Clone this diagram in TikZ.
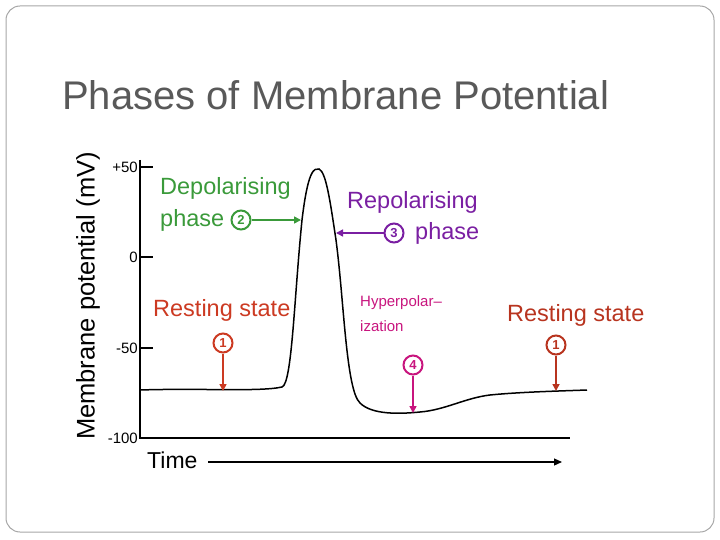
\documentclass[tikz,border=0pt]{standalone}
\usepackage{fontspec}
\setmainfont{Liberation Sans}
\usetikzlibrary{arrows.meta}
\definecolor{grn}{HTML}{3A9A3A}
\definecolor{pur}{HTML}{7A1FA2}
\definecolor{rd}{HTML}{CC3A22}
\definecolor{mag}{HTML}{C8157E}
\begin{document}
\begin{tikzpicture}[x=1pt,y=-1pt,
  lbl/.style={inner sep=0pt,font=\fontsize{23.5}{26}\selectfont},
  num/.style={circle,draw,line width=2pt,inner sep=0pt,font=\bfseries\fontsize{13}{13}\selectfont,minimum size=19pt},
  tick/.style={inner sep=0pt,anchor=east,font=\fontsize{15}{15}\selectfont},
  arr/.style={-{Triangle[length=7pt,width=7pt]},line width=1.6pt}]
\useasboundingbox (0,0) rectangle (720,540);
\draw[gray!70,line width=1pt,rounded corners=14pt] (6,6) rectangle (714,532);
\node[anchor=west,inner sep=0pt,text=black!65,font=\fontsize{40}{44}\selectfont] (title) at (62,95) {Phases of Membrane Potential};
% axes
\draw[line width=1.2pt] (140,160) -- (140,438) -- (570,438);
\foreach \y/\t in {167/+50,257/0,348/-50,438/-100}{
  \draw[line width=1.2pt] (140,\y) -- (153,\y);
  \node[tick] at (138,\y) {\t};}
\node[rotate=90,inner sep=0pt,font=\fontsize{25.5}{28}\selectfont] (ylab) at (88,296) {Membrane potential (mV)};
\node[anchor=west,inner sep=0pt,font=\fontsize{23}{25}\selectfont] (time) at (147,460) {Time};
\coordinate (ta) at (208,462); \coordinate (tb) at (562,462);
\draw[-{Triangle[length=8pt,width=7pt]},line width=1.2pt] (ta) -- (tb);
% curve
\draw[line width=1.5pt] (140,390) .. controls (200,388) and (260,392) .. (282,387)
  .. controls (292,384) and (294,300) .. (302,220)
  .. controls (308,170) and (314,168) .. (319,169)
  .. controls (326,172) and (330,200) .. (336,240)
  .. controls (344,300) and (346,390) .. (360,403)
  .. controls (372,415) and (400,414) .. (420,412)
  .. controls (445,410) and (465,398) .. (490,395)
  .. controls (520,392) and (560,391) .. (587,390);
% depolarising
\node[lbl,anchor=west,text=grn] (dep) at (160,188) {Depolarising};
\node[lbl,anchor=west,text=grn] (ph2) at (160,220) {phase};
\node[num,draw=grn,text=grn] (n2) at (241,220) {2};
\coordinate (d2) at (301,220);
\draw[arr,grn] (n2) -- (d2);
% repolarising
\node[lbl,anchor=west,text=pur] (rep) at (347,202) {Repolarising};
\node[num,draw=pur,text=pur] (n3) at (394,233) {3};
\node[lbl,anchor=west,text=pur] (ph3) at (415,233) {phase};
\coordinate (d3) at (336,233);
\draw[arr,pur] (n3) -- (d3);
% resting left
\node[lbl,anchor=west,text=rd] (rs1) at (153,310) {Resting state};
\node[num,draw=rd,text=rd] (n1a) at (223,343) {1};
\coordinate (d1a) at (223,391);
\draw[arr,rd] (n1a) -- (d1a);
% resting right
\node[lbl,anchor=west,text=rd!90!black] (rs2) at (507,315) {Resting state};
\node[num,draw=rd!90!black,text=rd!90!black] (n1b) at (556,345) {1};
\coordinate (d1b) at (556,391);
\draw[arr,rd!90!black] (n1b) -- (d1b);
% hyperpolarization
\node[anchor=west,inner sep=0pt,text=mag,font=\fontsize{15}{17}\selectfont] (hy1) at (360,303) {Hyperpolar\textendash};
\node[anchor=west,inner sep=0pt,text=mag,font=\fontsize{15}{17}\selectfont] (hy2) at (360,326) {ization};
\node[num,draw=mag,text=mag] (n4) at (413,365) {4};
\coordinate (d4) at (413,413);
\draw[arr,mag] (n4) -- (d4);
\end{tikzpicture}
\end{document}
